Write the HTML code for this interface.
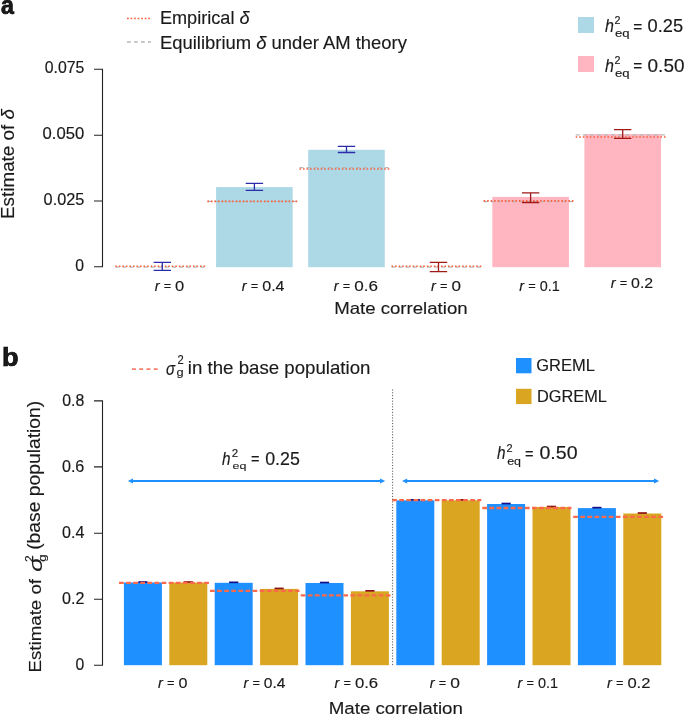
<!DOCTYPE html>
<html><head><meta charset="utf-8"><title>figure</title><style>
html,body{margin:0;padding:0;background:#fff;width:685px;height:715px;overflow:hidden}
svg{display:block;font-family:"Liberation Sans", sans-serif;will-change:transform}
</style></head><body>
<svg width="685" height="715" viewBox="0 0 685 715">
<rect width="685" height="715" fill="#fff"/>
<line x1="127" y1="18.5" x2="150.5" y2="18.5" stroke="#f9603e" stroke-width="1.7" stroke-dasharray="1.7 1.85"/>
<line x1="127" y1="42" x2="151" y2="42" stroke="#b8b8b8" stroke-width="1.6" stroke-dasharray="3.8 3.2"/>
<rect x="578" y="17" width="16" height="16" fill="#add8e6"/>
<rect x="578" y="56" width="16" height="16" fill="#ffb6c1"/>
<path d="M94 69.2 H102.5 V266.8 H94 M94 135.2 H102.5 M94 201 H102.5" fill="none" stroke="#222" stroke-width="1.1"/>
<rect x="216.08" y="187.1" width="76.6" height="80.10" fill="#add8e6"/>
<rect x="308.16" y="149.8" width="76.6" height="117.40" fill="#add8e6"/>
<rect x="492.32" y="196.9" width="76.6" height="70.30" fill="#ffb6c1"/>
<rect x="584.40" y="134.1" width="76.6" height="133.10" fill="#ffb6c1"/>
<line x1="115.3" y1="267.2" x2="206.8" y2="267.2" stroke="#b8b8b8" stroke-width="1.3" stroke-dasharray="4 3.1"/>
<line x1="115.3" y1="266.2" x2="206.8" y2="266.2" stroke="#f9603e" stroke-width="1.6" stroke-dasharray="1.6 1.93"/>
<line x1="207.4" y1="201.3" x2="298.9" y2="201.3" stroke="#b8b8b8" stroke-width="1.3" stroke-dasharray="4 3.1"/>
<line x1="207.4" y1="201.4" x2="298.9" y2="201.4" stroke="#f9603e" stroke-width="1.6" stroke-dasharray="1.6 1.93"/>
<line x1="299.5" y1="167.6" x2="391.0" y2="167.6" stroke="#b8b8b8" stroke-width="1.3" stroke-dasharray="4 3.1"/>
<line x1="299.5" y1="169.0" x2="391.0" y2="169.0" stroke="#f9603e" stroke-width="1.6" stroke-dasharray="1.6 1.93"/>
<line x1="391.5" y1="267.2" x2="483.0" y2="267.2" stroke="#b8b8b8" stroke-width="1.3" stroke-dasharray="4 3.1"/>
<line x1="391.5" y1="266.2" x2="483.0" y2="266.2" stroke="#f9603e" stroke-width="1.6" stroke-dasharray="1.6 1.93"/>
<line x1="483.6" y1="201.6" x2="575.1" y2="201.6" stroke="#b8b8b8" stroke-width="1.3" stroke-dasharray="4 3.1"/>
<line x1="483.6" y1="200.9" x2="575.1" y2="200.9" stroke="#f9603e" stroke-width="1.6" stroke-dasharray="1.6 1.93"/>
<line x1="575.7" y1="134.9" x2="667.2" y2="134.9" stroke="#b8b8b8" stroke-width="1.3" stroke-dasharray="4 3.1"/>
<line x1="575.7" y1="137.0" x2="667.2" y2="137.0" stroke="#f9603e" stroke-width="1.6" stroke-dasharray="1.6 1.93"/>
<path d="M153.6 262.4 H171.0 M162.3 262.4 V270.4 M153.6 270.4 H171.0" stroke="#2c2caa" stroke-width="1.3" fill="none"/>
<path d="M245.7 183.3 H263.1 M254.4 183.3 V190.3 M245.7 190.3 H263.1" stroke="#2c2caa" stroke-width="1.3" fill="none"/>
<path d="M337.8 146.4 H355.2 M346.5 146.4 V152.5 M337.8 152.5 H355.2" stroke="#2c2caa" stroke-width="1.3" fill="none"/>
<path d="M429.8 262.3 H447.2 M438.5 262.3 V271.7 M429.8 271.7 H447.2" stroke="#a01a1a" stroke-width="1.3" fill="none"/>
<path d="M521.9 192.8 H539.3 M530.6 192.8 V202.5 M521.9 202.5 H539.3" stroke="#a01a1a" stroke-width="1.3" fill="none"/>
<path d="M614.0 129.7 H631.4 M622.7 129.7 V138.3 M614.0 138.3 H631.4" stroke="#a01a1a" stroke-width="1.3" fill="none"/>
<line x1="132" y1="369.1" x2="158.5" y2="369.1" stroke="#f6806a" stroke-width="1.7" stroke-dasharray="3.9 3.35"/>
<rect x="516" y="358" width="15.5" height="15.3" fill="#1e90ff"/>
<rect x="516" y="388.8" width="15.5" height="15.3" fill="#daa520"/>
<path d="M94 400.9 H102.5 V665.2 H94 M94 466.9 H102.5 M94 533.2 H102.5 M94 599.2 H102.5" fill="none" stroke="#222" stroke-width="1.1"/>
<rect x="123.90" y="582.5" width="38" height="82.70" fill="#1e90ff"/>
<rect x="169.30" y="582.5" width="38" height="82.70" fill="#daa520"/>
<rect x="214.70" y="582.8" width="38" height="82.40" fill="#1e90ff"/>
<rect x="260.10" y="588.9" width="38" height="76.30" fill="#daa520"/>
<rect x="305.50" y="583.0" width="38" height="82.20" fill="#1e90ff"/>
<rect x="350.90" y="591.3" width="38" height="73.90" fill="#daa520"/>
<rect x="396.30" y="500.3" width="38" height="164.90" fill="#1e90ff"/>
<rect x="441.70" y="500.3" width="38" height="164.90" fill="#daa520"/>
<rect x="487.10" y="504.0" width="38" height="161.20" fill="#1e90ff"/>
<rect x="532.50" y="507.0" width="38" height="158.20" fill="#daa520"/>
<rect x="577.90" y="508.1" width="38" height="157.10" fill="#1e90ff"/>
<rect x="623.30" y="513.5" width="38" height="151.70" fill="#daa520"/>
<rect x="138.30" y="581.20" width="9.2" height="1.7" fill="#10108a"/>
<rect x="183.70" y="581.20" width="9.2" height="1.7" fill="#8a1010"/>
<rect x="229.10" y="581.50" width="9.2" height="1.7" fill="#10108a"/>
<rect x="274.50" y="587.60" width="9.2" height="1.7" fill="#8a1010"/>
<rect x="319.90" y="581.70" width="9.2" height="1.7" fill="#10108a"/>
<rect x="365.30" y="590.00" width="9.2" height="1.7" fill="#8a1010"/>
<rect x="410.70" y="499.00" width="9.2" height="1.7" fill="#10108a"/>
<rect x="456.10" y="499.00" width="9.2" height="1.7" fill="#8a1010"/>
<rect x="501.50" y="502.70" width="9.2" height="1.7" fill="#10108a"/>
<rect x="546.90" y="505.70" width="9.2" height="1.7" fill="#8a1010"/>
<rect x="592.30" y="506.80" width="9.2" height="1.7" fill="#10108a"/>
<rect x="637.70" y="512.20" width="9.2" height="1.7" fill="#8a1010"/>
<line x1="119" y1="582.9" x2="209" y2="582.9" stroke="#fb6a4a" stroke-width="2.3" stroke-dasharray="4.7 2.4"/>
<line x1="210" y1="590.8" x2="299.5" y2="590.8" stroke="#fb6a4a" stroke-width="2.3" stroke-dasharray="4.7 2.4"/>
<line x1="300.7" y1="595.3" x2="390.5" y2="595.3" stroke="#fb6a4a" stroke-width="2.3" stroke-dasharray="4.7 2.4"/>
<line x1="392.2" y1="500.1" x2="481.3" y2="500.1" stroke="#fb6a4a" stroke-width="2.3" stroke-dasharray="4.7 2.4"/>
<line x1="482.3" y1="508.0" x2="571.4" y2="508.0" stroke="#fb6a4a" stroke-width="2.3" stroke-dasharray="4.7 2.4"/>
<line x1="573.2" y1="516.9" x2="663" y2="516.9" stroke="#fb6a4a" stroke-width="2.3" stroke-dasharray="4.7 2.4"/>
<line x1="392.6" y1="389.5" x2="392.6" y2="665.5" stroke="#444" stroke-width="1" stroke-dasharray="1 1.8"/>
<line x1="131" y1="481" x2="381" y2="481" stroke="#1e90ff" stroke-width="2"/>
<line x1="406" y1="481" x2="655" y2="481" stroke="#1e90ff" stroke-width="2"/>
<path d="M127.8 481 L133 478.4 L133 483.6 Z" fill="#1e90ff"/>
<path d="M385.2 481 L380 478.4 L380 483.6 Z" fill="#1e90ff"/>
<path d="M402 481 L407.2 478.4 L407.2 483.6 Z" fill="#1e90ff"/>
<path d="M659.2 481 L654 478.4 L654 483.6 Z" fill="#1e90ff"/>
<g transform="translate(1.10 14.00) scale(0.8933 0.9714)"><text font-size="26" font-weight="bold" stroke="#000" stroke-width="0.7" fill="#1a1a1a">a</text></g>
<g transform="translate(159.89 23.70) scale(1.0080 1.0000)"><text font-size="18"  fill="#1a1a1a" stroke="#1a1a1a" stroke-width="0.15">Empirical <tspan font-style="italic">δ</tspan></text></g>
<g transform="translate(159.88 49.40) scale(1.0250 1.0000)"><text font-size="18"  fill="#1a1a1a" stroke="#1a1a1a" stroke-width="0.15">Equilibrium <tspan font-style="italic">δ</tspan> under AM theory</text></g>
<g transform="translate(605.10 31.90) scale(0.8889 1.0538)"><text font-size="18"  fill="#1a1a1a" stroke="#1a1a1a" stroke-width="0.15"><tspan font-style="italic">h</tspan></text></g>
<g transform="translate(614.60 24.00) scale(0.9000 0.9667)"><text font-size="12"  fill="#1a1a1a" stroke="#1a1a1a" stroke-width="0.15">2</text></g>
<g transform="translate(615.00 36.76) scale(1.0923 0.8800)"><text font-size="12"  fill="#1a1a1a" stroke="#1a1a1a" stroke-width="0.15">eq</text></g>
<g transform="translate(633.34 31.68) scale(0.9625 0.9600)"><text font-size="16"  fill="#1a1a1a" stroke="#1a1a1a" stroke-width="0.15">=</text></g>
<g transform="translate(647.60 32.10) scale(1.1419 1.1000)"><text font-size="16"  fill="#1a1a1a" stroke="#1a1a1a" stroke-width="0.15">0.25</text></g>
<g transform="translate(605.10 71.70) scale(0.8889 1.0538)"><text font-size="18"  fill="#1a1a1a" stroke="#1a1a1a" stroke-width="0.15"><tspan font-style="italic">h</tspan></text></g>
<g transform="translate(614.60 63.80) scale(0.9000 0.9667)"><text font-size="12"  fill="#1a1a1a" stroke="#1a1a1a" stroke-width="0.15">2</text></g>
<g transform="translate(615.00 76.56) scale(1.0923 0.8800)"><text font-size="12"  fill="#1a1a1a" stroke="#1a1a1a" stroke-width="0.15">eq</text></g>
<g transform="translate(633.34 71.48) scale(0.9625 0.9600)"><text font-size="16"  fill="#1a1a1a" stroke="#1a1a1a" stroke-width="0.15">=</text></g>
<g transform="translate(647.60 71.90) scale(1.1839 1.1000)"><text font-size="16"  fill="#1a1a1a" stroke="#1a1a1a" stroke-width="0.15">0.50</text></g>
<g transform="translate(44.70 73.20) scale(1.0917 1.0900)"><text font-size="14.5"  fill="#1a1a1a" stroke="#1a1a1a" stroke-width="0.15">0.075</text></g>
<g transform="translate(42.60 139.20) scale(1.1500 1.0900)"><text font-size="14.5"  fill="#1a1a1a" stroke="#1a1a1a" stroke-width="0.15">0.050</text></g>
<g transform="translate(43.60 205.00) scale(1.1222 1.0900)"><text font-size="14.5"  fill="#1a1a1a" stroke="#1a1a1a" stroke-width="0.15">0.025</text></g>
<g transform="translate(75.30 270.80) scale(1.0875 1.0900)"><text font-size="14.5"  fill="#1a1a1a" stroke="#1a1a1a" stroke-width="0.15">0</text></g>
<g transform="translate(13.80 218.95) rotate(-90) scale(1.0471 0.9846)"><text font-size="18"  fill="#1a1a1a" stroke="#1a1a1a" stroke-width="0.15">Estimate of <tspan font-style="italic">δ</tspan></text></g>
<g transform="translate(154.70 290.90) scale(1.0200 1.0125)"><text font-size="14.5"  fill="#1a1a1a" stroke="#1a1a1a" stroke-width="0.15"><tspan font-style="italic">r</tspan></text></g>
<g transform="translate(163.71 290.36) scale(0.8857 0.8200)"><text font-size="14.5"  fill="#1a1a1a" stroke="#1a1a1a" stroke-width="0.15">=</text></g>
<g transform="translate(175.10 290.90) scale(1.1000 1.0300)"><text font-size="15"  fill="#1a1a1a" stroke="#1a1a1a" stroke-width="0.15">0</text></g>
<g transform="translate(241.80 290.90) scale(1.0200 1.0125)"><text font-size="14.5"  fill="#1a1a1a" stroke="#1a1a1a" stroke-width="0.15"><tspan font-style="italic">r</tspan></text></g>
<g transform="translate(250.81 290.36) scale(0.8857 0.8200)"><text font-size="14.5"  fill="#1a1a1a" stroke="#1a1a1a" stroke-width="0.15">=</text></g>
<g transform="translate(262.20 290.90) scale(1.0714 1.0300)"><text font-size="15"  fill="#1a1a1a" stroke="#1a1a1a" stroke-width="0.15">0.4</text></g>
<g transform="translate(333.80 290.90) scale(1.0200 1.0125)"><text font-size="14.5"  fill="#1a1a1a" stroke="#1a1a1a" stroke-width="0.15"><tspan font-style="italic">r</tspan></text></g>
<g transform="translate(342.81 290.36) scale(0.8857 0.8200)"><text font-size="14.5"  fill="#1a1a1a" stroke="#1a1a1a" stroke-width="0.15">=</text></g>
<g transform="translate(354.20 290.90) scale(1.1400 1.0300)"><text font-size="15"  fill="#1a1a1a" stroke="#1a1a1a" stroke-width="0.15">0.6</text></g>
<g transform="translate(431.00 290.90) scale(1.0200 1.0125)"><text font-size="14.5"  fill="#1a1a1a" stroke="#1a1a1a" stroke-width="0.15"><tspan font-style="italic">r</tspan></text></g>
<g transform="translate(440.01 290.36) scale(0.8857 0.8200)"><text font-size="14.5"  fill="#1a1a1a" stroke="#1a1a1a" stroke-width="0.15">=</text></g>
<g transform="translate(451.40 290.90) scale(1.1375 1.0300)"><text font-size="15"  fill="#1a1a1a" stroke="#1a1a1a" stroke-width="0.15">0</text></g>
<g transform="translate(519.30 290.90) scale(1.0200 1.0125)"><text font-size="14.5"  fill="#1a1a1a" stroke="#1a1a1a" stroke-width="0.15"><tspan font-style="italic">r</tspan></text></g>
<g transform="translate(528.31 290.36) scale(0.8857 0.8200)"><text font-size="14.5"  fill="#1a1a1a" stroke="#1a1a1a" stroke-width="0.15">=</text></g>
<g transform="translate(539.70 290.90) scale(0.9600 1.0300)"><text font-size="15"  fill="#1a1a1a" stroke="#1a1a1a" stroke-width="0.15">0.1</text></g>
<g transform="translate(610.70 287.90) scale(1.0200 1.0125)"><text font-size="14.5"  fill="#1a1a1a" stroke="#1a1a1a" stroke-width="0.15"><tspan font-style="italic">r</tspan></text></g>
<g transform="translate(619.71 287.36) scale(0.8857 0.8200)"><text font-size="14.5"  fill="#1a1a1a" stroke="#1a1a1a" stroke-width="0.15">=</text></g>
<g transform="translate(631.10 287.90) scale(1.0600 1.0300)"><text font-size="15"  fill="#1a1a1a" stroke="#1a1a1a" stroke-width="0.15">0.2</text></g>
<g transform="translate(334.14 314.40) scale(1.0645 0.9538)"><text font-size="17.5"  fill="#1a1a1a" stroke="#1a1a1a" stroke-width="0.15">Mate correlation</text></g>
<g transform="translate(2.06 366.30) scale(1.0429 1.0158)"><text font-size="26" font-weight="bold" stroke="#000" stroke-width="0.7" fill="#1a1a1a">b</text></g>
<g transform="translate(166.10 374.50) scale(0.8333 1.0500)"><text font-size="18"  fill="#1a1a1a" stroke="#1a1a1a" stroke-width="0.15"><tspan font-style="italic">σ</tspan></text></g>
<g transform="translate(177.50 364.30) scale(0.9333 1.0000)"><text font-size="12"  fill="#1a1a1a" stroke="#1a1a1a" stroke-width="0.15">2</text></g>
<g transform="translate(176.40 376.02) scale(1.0667 0.9600)"><text font-size="12"  fill="#1a1a1a" stroke="#1a1a1a" stroke-width="0.15">g</text></g>
<g transform="translate(187.86 373.80) scale(1.0368 0.9769)"><text font-size="18"  fill="#1a1a1a" stroke="#1a1a1a" stroke-width="0.15">in the base population</text></g>
<g transform="translate(536.16 371.20) scale(0.9426 0.9615)"><text font-size="17.5"  fill="#1a1a1a" stroke="#1a1a1a" stroke-width="0.15">GREML</text></g>
<g transform="translate(536.97 402.00) scale(0.9338 0.9231)"><text font-size="17.5"  fill="#1a1a1a" stroke="#1a1a1a" stroke-width="0.15">DGREML</text></g>
<g transform="translate(62.30 405.80) scale(1.0950 1.0900)"><text font-size="14.5"  fill="#1a1a1a" stroke="#1a1a1a" stroke-width="0.15">0.8</text></g>
<g transform="translate(61.90 471.80) scale(1.1150 1.0900)"><text font-size="14.5"  fill="#1a1a1a" stroke="#1a1a1a" stroke-width="0.15">0.6</text></g>
<g transform="translate(62.00 538.10) scale(1.1100 1.0900)"><text font-size="14.5"  fill="#1a1a1a" stroke="#1a1a1a" stroke-width="0.15">0.4</text></g>
<g transform="translate(62.00 604.10) scale(1.1100 1.0900)"><text font-size="14.5"  fill="#1a1a1a" stroke="#1a1a1a" stroke-width="0.15">0.2</text></g>
<g transform="translate(75.50 670.10) scale(1.0875 1.0900)"><text font-size="14.5"  fill="#1a1a1a" stroke="#1a1a1a" stroke-width="0.15">0</text></g>
<g transform="translate(41.10 672.44) rotate(-90) scale(1.0382 0.9538)"><text font-size="18"  fill="#1a1a1a" stroke="#1a1a1a" stroke-width="0.15">Estimate of</text></g>
<g transform="translate(41.70 571.80) rotate(-90) scale(1.3417 1.0400)"><text font-size="18"  fill="#1a1a1a" stroke="#1a1a1a" stroke-width="0.15"><tspan font-style="italic">σ</tspan></text></g>
<g transform="translate(32.60 562.00) rotate(-90) scale(1.0000 0.9778)"><text font-size="12"  fill="#1a1a1a" stroke="#1a1a1a" stroke-width="0.15">2</text></g>
<g transform="translate(46.33 561.70) rotate(-90) scale(1.1000 0.8900)"><text font-size="12"  fill="#1a1a1a" stroke="#1a1a1a" stroke-width="0.15">g</text></g>
<g transform="translate(39.97 549.87) rotate(-90) scale(1.0723 0.9824)"><text font-size="18"  fill="#1a1a1a" stroke="#1a1a1a" stroke-width="0.15">(base population)</text></g>
<g transform="translate(221.90 464.70) scale(0.9000 1.1250)"><text font-size="17"  fill="#1a1a1a" stroke="#1a1a1a" stroke-width="0.15"><tspan font-style="italic">h</tspan></text></g>
<g transform="translate(231.80 457.00) scale(0.9667 0.9333)"><text font-size="12"  fill="#1a1a1a" stroke="#1a1a1a" stroke-width="0.15">2</text></g>
<g transform="translate(232.50 469.41) scale(1.0385 0.7300)"><text font-size="12"  fill="#1a1a1a" stroke="#1a1a1a" stroke-width="0.15">eq</text></g>
<g transform="translate(250.99 464.04) scale(0.9125 0.8800)"><text font-size="16"  fill="#1a1a1a" stroke="#1a1a1a" stroke-width="0.15">=</text></g>
<g transform="translate(265.20 464.70) scale(1.1129 1.0917)"><text font-size="16"  fill="#1a1a1a" stroke="#1a1a1a" stroke-width="0.15">0.25</text></g>
<g transform="translate(496.90 459.30) scale(0.9000 1.1250)"><text font-size="17"  fill="#1a1a1a" stroke="#1a1a1a" stroke-width="0.15"><tspan font-style="italic">h</tspan></text></g>
<g transform="translate(506.40 451.70) scale(0.9167 0.9778)"><text font-size="12"  fill="#1a1a1a" stroke="#1a1a1a" stroke-width="0.15">2</text></g>
<g transform="translate(507.20 464.73) scale(1.0385 0.8900)"><text font-size="12"  fill="#1a1a1a" stroke="#1a1a1a" stroke-width="0.15">eq</text></g>
<g transform="translate(524.89 459.00) scale(0.9125 1.0000)"><text font-size="16"  fill="#1a1a1a" stroke="#1a1a1a" stroke-width="0.15">=</text></g>
<g transform="translate(539.50 459.30) scale(1.2226 1.0917)"><text font-size="16"  fill="#1a1a1a" stroke="#1a1a1a" stroke-width="0.15">0.50</text></g>
<g transform="translate(158.00 687.50) scale(1.0200 1.0125)"><text font-size="14.5"  fill="#1a1a1a" stroke="#1a1a1a" stroke-width="0.15"><tspan font-style="italic">r</tspan></text></g>
<g transform="translate(167.01 686.96) scale(0.8857 0.8200)"><text font-size="14.5"  fill="#1a1a1a" stroke="#1a1a1a" stroke-width="0.15">=</text></g>
<g transform="translate(178.40 687.50) scale(1.0750 1.0300)"><text font-size="15"  fill="#1a1a1a" stroke="#1a1a1a" stroke-width="0.15">0</text></g>
<g transform="translate(243.40 687.50) scale(1.0200 1.0125)"><text font-size="14.5"  fill="#1a1a1a" stroke="#1a1a1a" stroke-width="0.15"><tspan font-style="italic">r</tspan></text></g>
<g transform="translate(252.41 686.96) scale(0.8857 0.8200)"><text font-size="14.5"  fill="#1a1a1a" stroke="#1a1a1a" stroke-width="0.15">=</text></g>
<g transform="translate(263.80 687.50) scale(1.0381 1.0300)"><text font-size="15"  fill="#1a1a1a" stroke="#1a1a1a" stroke-width="0.15">0.4</text></g>
<g transform="translate(334.50 687.50) scale(1.0200 1.0125)"><text font-size="14.5"  fill="#1a1a1a" stroke="#1a1a1a" stroke-width="0.15"><tspan font-style="italic">r</tspan></text></g>
<g transform="translate(343.51 686.96) scale(0.8857 0.8200)"><text font-size="14.5"  fill="#1a1a1a" stroke="#1a1a1a" stroke-width="0.15">=</text></g>
<g transform="translate(354.90 687.50) scale(1.1150 1.0300)"><text font-size="15"  fill="#1a1a1a" stroke="#1a1a1a" stroke-width="0.15">0.6</text></g>
<g transform="translate(429.80 687.50) scale(1.0200 1.0125)"><text font-size="14.5"  fill="#1a1a1a" stroke="#1a1a1a" stroke-width="0.15"><tspan font-style="italic">r</tspan></text></g>
<g transform="translate(438.81 686.96) scale(0.8857 0.8200)"><text font-size="14.5"  fill="#1a1a1a" stroke="#1a1a1a" stroke-width="0.15">=</text></g>
<g transform="translate(450.20 687.50) scale(1.1625 1.0300)"><text font-size="15"  fill="#1a1a1a" stroke="#1a1a1a" stroke-width="0.15">0</text></g>
<g transform="translate(517.50 687.50) scale(1.0200 1.0125)"><text font-size="14.5"  fill="#1a1a1a" stroke="#1a1a1a" stroke-width="0.15"><tspan font-style="italic">r</tspan></text></g>
<g transform="translate(526.51 686.96) scale(0.8857 0.8200)"><text font-size="14.5"  fill="#1a1a1a" stroke="#1a1a1a" stroke-width="0.15">=</text></g>
<g transform="translate(537.90 687.50) scale(0.9650 1.0300)"><text font-size="15"  fill="#1a1a1a" stroke="#1a1a1a" stroke-width="0.15">0.1</text></g>
<g transform="translate(607.00 687.50) scale(1.0200 1.0125)"><text font-size="14.5"  fill="#1a1a1a" stroke="#1a1a1a" stroke-width="0.15"><tspan font-style="italic">r</tspan></text></g>
<g transform="translate(616.01 686.96) scale(0.8857 0.8200)"><text font-size="14.5"  fill="#1a1a1a" stroke="#1a1a1a" stroke-width="0.15">=</text></g>
<g transform="translate(627.40 687.50) scale(1.1050 1.0300)"><text font-size="15"  fill="#1a1a1a" stroke="#1a1a1a" stroke-width="0.15">0.2</text></g>
<g transform="translate(328.73 713.90) scale(1.0702 0.9538)"><text font-size="17.5"  fill="#1a1a1a" stroke="#1a1a1a" stroke-width="0.15">Mate correlation</text></g>
</svg></body></html>
